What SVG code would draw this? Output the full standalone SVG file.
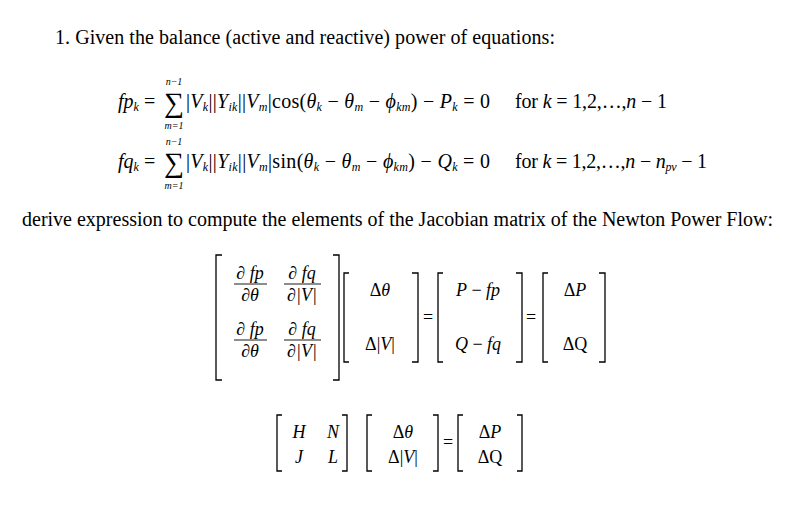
<svg xmlns="http://www.w3.org/2000/svg" width="812" height="506" viewBox="0 0 812 506">
<style>
text{font-family:"Liberation Serif","Times New Roman",serif;fill:#000}
.t{font-size:20px}
.m{font-size:20px}
.n{font-size:18px}
.i{font-style:italic}
.s{font-size:12px}
.l{font-size:10px}
.c{text-anchor:middle}
.g{font-size:28px}
.b{fill:none;stroke:#000;stroke-width:1.3}
.f{stroke:#000;stroke-width:0.9}
</style>
<rect width="812" height="506" fill="#fff"/>
<g id="title"><text class="t" x="55" y="44" textLength="500">1.  Given the balance (active and reactive) power of equations:</text></g>
<g id="eq1">
<text class="m" x="118" y="108"><tspan class="i">fp</tspan><tspan class="i s" dy="3">k</tspan><tspan dy="-3"> = </tspan></text>
<text class="g" x="164" y="112">∑</text>
<text class="l i c" x="174" y="85">n−1</text>
<text class="l i c" x="174" y="129">m=1</text>
<text class="m" x="186" y="108" textLength="304">|<tspan class="i">V</tspan><tspan class="i s" dy="3">k</tspan><tspan dy="-3">||</tspan><tspan class="i">Y</tspan><tspan class="i s" dy="3">ik</tspan><tspan dy="-3">||</tspan><tspan class="i">V</tspan><tspan class="i s" dy="3">m</tspan><tspan dy="-3">|cos(</tspan><tspan class="i">θ</tspan><tspan class="i s" dy="3">k</tspan><tspan dy="-3"> − </tspan><tspan class="i">θ</tspan><tspan class="i s" dy="3">m</tspan><tspan dy="-3"> − </tspan><tspan class="i">ϕ</tspan><tspan class="i s" dy="3">km</tspan><tspan dy="-3">) − </tspan><tspan class="i">P</tspan><tspan class="i s" dy="3">k</tspan><tspan dy="-3"> = 0</tspan></text>
<text class="m" x="515" y="108" textLength="152">for <tspan class="i">k</tspan> = 1,2,…,<tspan class="i">n</tspan> − 1</text>
</g>
<g id="eq2">
<text class="m" x="118" y="168"><tspan class="i">fq</tspan><tspan class="i s" dy="3">k</tspan><tspan dy="-3"> = </tspan></text>
<text class="g" x="164" y="172">∑</text>
<text class="l i c" x="174" y="145">n−1</text>
<text class="l i c" x="174" y="189">m=1</text>
<text class="m" x="186" y="168" textLength="304">|<tspan class="i">V</tspan><tspan class="i s" dy="3">k</tspan><tspan dy="-3">||</tspan><tspan class="i">Y</tspan><tspan class="i s" dy="3">ik</tspan><tspan dy="-3">||</tspan><tspan class="i">V</tspan><tspan class="i s" dy="3">m</tspan><tspan dy="-3">|sin(</tspan><tspan class="i">θ</tspan><tspan class="i s" dy="3">k</tspan><tspan dy="-3"> − </tspan><tspan class="i">θ</tspan><tspan class="i s" dy="3">m</tspan><tspan dy="-3"> − </tspan><tspan class="i">ϕ</tspan><tspan class="i s" dy="3">km</tspan><tspan dy="-3">) − </tspan><tspan class="i">Q</tspan><tspan class="i s" dy="3">k</tspan><tspan dy="-3"> = 0</tspan></text>
<text class="m" x="515" y="168" textLength="192">for <tspan class="i">k</tspan> = 1,2,…,<tspan class="i">n</tspan> − <tspan class="i">n</tspan><tspan class="i s" dy="3">pv</tspan><tspan dy="-3"> − 1</tspan></text>
</g>
<g id="derive"><text class="t" x="22" y="226" textLength="751">derive expression to compute the elements of the Jacobian matrix of the Newton Power Flow:</text></g>
<g id="matrix1">
<path class="b" d="M222,255 H216 V380 H222 M333,255 H339 V380 H333"/>
<path class="b" d="M349,273 H344 V362 H349 M412,273 H418 V362 H412"/>
<path class="b" d="M443,273 H438 V362 H443 M516,273 H522 V362 H516"/>
<path class="b" d="M548,273 H543 V362 H548 M599,273 H605 V362 H599"/>
<text class="n c" x="250" y="279"><tspan class="i">∂ fp</tspan></text>
<line class="f" x1="234" y1="284" x2="267" y2="284"/>
<text class="n c" x="250" y="301"><tspan class="i">∂θ</tspan></text>
<text class="n c" x="302" y="279"><tspan class="i">∂ fq</tspan></text>
<line class="f" x1="284" y1="284" x2="321" y2="284"/>
<text class="n c" x="302" y="301"><tspan class="i">∂|V|</tspan></text>
<text class="n c" x="250" y="335"><tspan class="i">∂ fp</tspan></text>
<line class="f" x1="234" y1="340" x2="267" y2="340"/>
<text class="n c" x="250" y="357"><tspan class="i">∂θ</tspan></text>
<text class="n c" x="302" y="335"><tspan class="i">∂ fq</tspan></text>
<line class="f" x1="284" y1="340" x2="321" y2="340"/>
<text class="n c" x="302" y="357"><tspan class="i">∂|V|</tspan></text>
<text class="n c" x="380" y="296">Δ<tspan class="i">θ</tspan></text>
<text class="n c" x="380" y="350">Δ|<tspan class="i">V</tspan>|</text>
<text class="n c" x="428" y="323">=</text>
<text class="n c" x="478" y="296"><tspan class="i">P</tspan> − <tspan class="i">fp</tspan></text>
<text class="n c" x="478" y="350"><tspan class="i">Q</tspan> − <tspan class="i">fq</tspan></text>
<text class="n c" x="531" y="323">=</text>
<text class="n c" x="575" y="296">Δ<tspan class="i">P</tspan></text>
<text class="n c" x="575" y="350">ΔQ</text>
</g>
<g id="matrix2">
<path class="b" d="M282,415 H277 V471 H282 M342,415 H347 V471 H342"/>
<path class="b" d="M372,415 H367 V471 H372 M433,415 H438 V471 H433"/>
<path class="b" d="M463,415 H458 V471 H463 M517,415 H522 V471 H517"/>
<text class="n c i" x="299" y="438">H</text>
<text class="n c i" x="333" y="438">N</text>
<text class="n c i" x="299" y="463">J</text>
<text class="n c i" x="333" y="463">L</text>
<text class="n c" x="403" y="438">Δ<tspan class="i">θ</tspan></text>
<text class="n c" x="403" y="463">Δ|<tspan class="i">V</tspan>|</text>
<text class="n c" x="448" y="448">=</text>
<text class="n c" x="490" y="438">Δ<tspan class="i">P</tspan></text>
<text class="n c" x="490" y="463">ΔQ</text>
</g>
</svg>
